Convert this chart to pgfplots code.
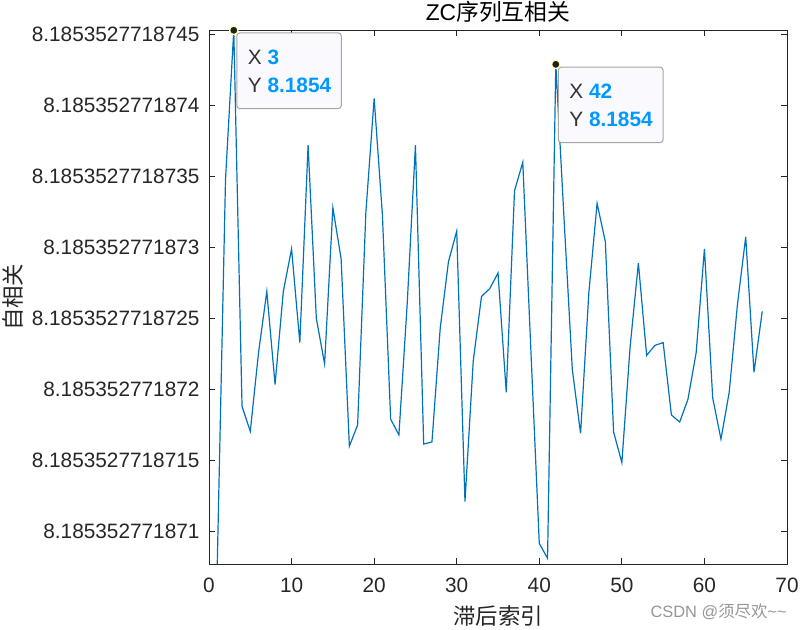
\documentclass[border=0pt]{standalone}
\usepackage{pgfplots}
\pgfplotsset{compat=1.18}
\usepackage{pgfplotstable}
\usepackage{fontspec}
\setmainfont{Liberation Sans}
\newfontfamily\cjk{Noto Sans CJK SC}
\definecolor{mblue}{RGB}{0,114,189}
\definecolor{axgray}{RGB}{38,38,38}
\definecolor{tipblue}{RGB}{0,153,255}
\definecolor{tipfill}{RGB}{250,250,254}
\definecolor{tipedge}{RGB}{165,165,165}
\definecolor{tiptext}{RGB}{51,51,51}
\definecolor{wm}{RGB}{150,150,150}

% y = (value - 8.18535277187) in units of 1e-13
\pgfplotstableread{
x y
1 7.68
2 34.8
3 45.3
4 18.8
5 17.05
6 22.6
7 26.9
8 20.35
9 26.9
10 29.9
11 23.3
12 37.2
13 25.0
14 21.8
15 32.8
16 29.2
17 16.0
18 17.5
19 32.5
20 40.5
21 32.3
22 17.9
23 16.8
24 26.0
25 37.2
26 16.15
27 16.3
28 24.3
29 29.0
30 31.15
31 12.1
32 22.0
33 26.55
34 27.1
35 28.2
36 19.8
37 34.0
38 36.0
39 22.5
40 9.15
41 8.1
42 42.9
43 32.0
44 21.4
45 16.9
46 26.8
47 33.1
48 30.4
49 17.0
50 14.85
51 23.0
52 28.9
53 22.4
54 23.1
55 23.3
56 18.2
57 17.7
58 19.3
59 22.6
60 29.9
61 19.4
62 16.5
63 19.8
64 26.0
65 30.75
66 21.2
67 25.5
}\datatable

\begin{document}
\begin{tikzpicture}
\useasboundingbox (0,0) rectangle (401pt,315pt);
\begin{axis}[
  at={(104.5pt,32.85pt)}, anchor=south west,
  scale only axis, width=289pt, height=267pt,
  xmin=0, xmax=70, ymin=7.68, ymax=45.3,
  xtick={0,10,...,70}, xticklabels={0,10,20,30,40,50,60,70},
  ytick={10,15,...,45},
  yticklabels={8.185352771871,8.1853527718715,8.185352771872,8.1853527718725,8.185352771873,8.1853527718735,8.185352771874,8.1853527718745},
  tick align=inside, major tick length=3pt, xtick pos=both, ytick pos=both,
  minor tick num=0,
  axis line style={axgray, line width=0.5pt},
  every tick/.style={axgray, line width=0.5pt},
  tick label style={font=\fontsize{10.4}{12}\selectfont, text=axgray},
  xticklabel style={yshift=-3.4pt},
  yticklabel style={xshift=-1.2pt},
  /pgf/number format/assume math mode=true,
  every axis title shift=0pt,
  title={ZC{\cjk 序列互相关}},
  title style={at={(axis description cs:0.5,1)}, anchor=base, yshift=4.8pt, inner sep=0pt, font=\fontsize{11.4}{13}\selectfont, text=black},
  xlabel={{\cjk 滞后索引}},
  xlabel style={at={(axis description cs:0.5,-0.0968)}, anchor=center, font=\fontsize{11.2}{13}\selectfont, text=axgray},
  ylabel={{\cjk 自相关}},
  ylabel style={at={(axis description cs:-0.340,0.5)}, anchor=center, font=\fontsize{11.2}{13}\selectfont, text=axgray},
  clip=false,
]
\addplot[color=mblue, line width=0.6pt, mark=none] table[x=x, y=y] {\datatable};

% data tip 1
\draw[tipedge, fill=tipfill, rounded corners=1.5pt, line width=0.5pt] ([xshift=1.5pt,yshift=-1.35pt]axis cs:3,45.3) rectangle ++(52.3pt,-37.8pt);
\node[anchor=base west, inner sep=0pt, font=\fontsize{10.4}{12}\selectfont, text=tiptext] at ([xshift=6.85pt,yshift=-17pt]axis cs:3,45.3) {X \textbf{\textcolor{tipblue}{3}}};
\node[anchor=base west, inner sep=0pt, font=\fontsize{10.4}{12}\selectfont, text=tiptext] at ([xshift=6.85pt,yshift=-31.15pt]axis cs:3,45.3) {Y \textbf{\textcolor{tipblue}{8.1854}}};
% data tip 2
\draw[tipedge, fill=tipfill, rounded corners=1.5pt, line width=0.5pt] ([xshift=1.3pt,yshift=-1.35pt]axis cs:42,42.9) rectangle ++(52.3pt,-37.8pt);
\node[anchor=base west, inner sep=0pt, font=\fontsize{10.4}{12}\selectfont, text=tiptext] at ([xshift=6.6pt,yshift=-17pt]axis cs:42,42.9) {X \textbf{\textcolor{tipblue}{42}}};
\node[anchor=base west, inner sep=0pt, font=\fontsize{10.4}{12}\selectfont, text=tiptext] at ([xshift=6.6pt,yshift=-31.15pt]axis cs:42,42.9) {Y \textbf{\textcolor{tipblue}{8.1854}}};

\addplot[only marks, mark=*, mark size=2.1pt, mark options={fill=black!88, draw=yellow!30!white, line width=0.6pt}] coordinates {(3,45.3) (42,42.9)};

\node[anchor=east, inner sep=0pt, text=wm, font=\fontsize{8.2}{10}\selectfont] at (axis description cs:1,-0.0888) {CSDN @{\cjk 须尽欢}\textasciitilde\textasciitilde};
\end{axis}
\end{tikzpicture}
\end{document}
